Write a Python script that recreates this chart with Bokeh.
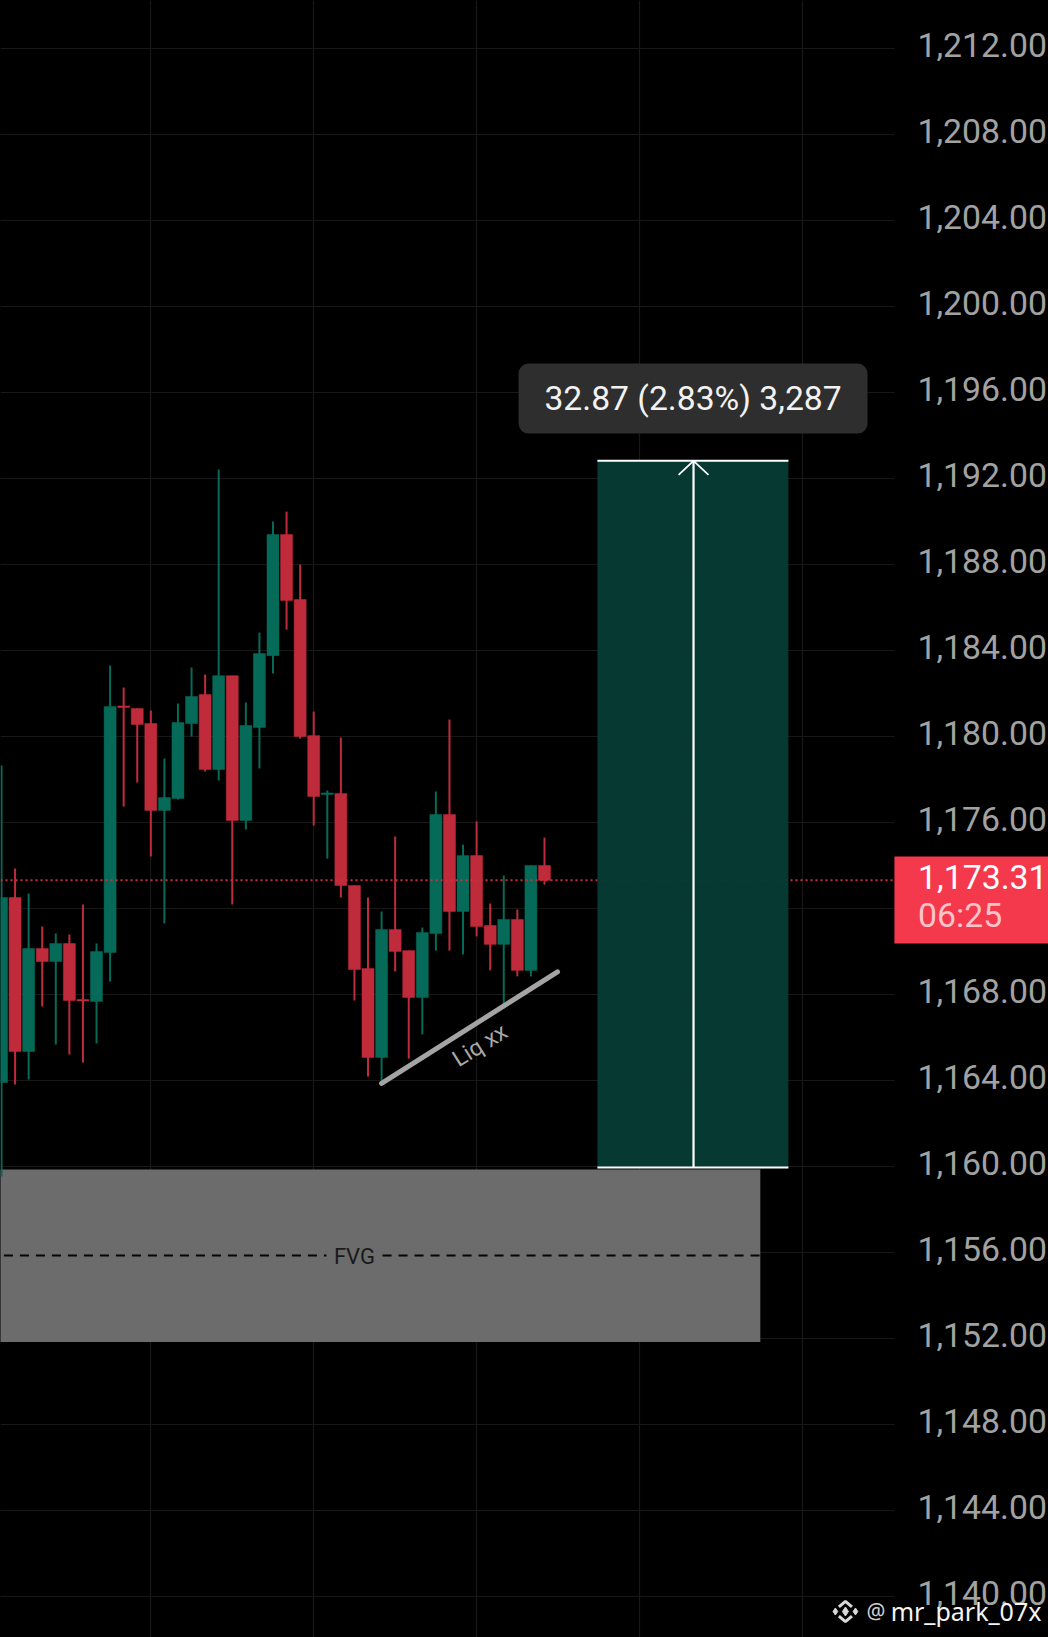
from bokeh.plotting import figure
from bokeh.embed import file_html
from bokeh.resources import INLINE
from bokeh.core.properties import value
from bokeh.models import (LinearAxis, Grid, FixedTicker, NumeralTickFormatter, Range1d,
                          BoxAnnotation, Label, ColumnDataSource)

FONT = "Roboto"
opens = [1163.90,1172.51,1165.35,1170.14,1169.53,1170.37,1167.76,1167.67,1169.95,1181.42,
         1181.30,1180.60,1176.56,1177.11,1180.60,1181.95,1178.46,1182.83,1176.09,1180.42,
         1183.76,1189.39,1186.37,1180.04,1177.30,1177.35,1173.07,1169.21,1165.07,1171.02,
         1170.04,1167.86,1170.83,1176.37,1171.86,1174.46,1171.21,1170.33,1171.49,1169.12,1174.00]
highs = [1178.65,1173.86,1172.70,1171.16,1170.83,1170.79,1172.18,1170.37,1183.30,1182.28,
         1181.30,1181.21,1178.97,1181.53,1183.21,1182.88,1192.42,1182.83,1181.58,1184.83,
         1190.00,1190.46,1188.00,1181.16,1177.49,1179.95,1173.07,1172.51,1171.86,1175.35,
         1170.04,1171.11,1177.44,1180.79,1174.97,1176.05,1172.23,1173.53,1171.95,1174.00,1175.30]
lows = [1159.53,1163.81,1164.04,1167.44,1165.67,1165.21,1164.83,1165.72,1168.60,1176.74,
        1177.86,1174.42,1171.30,1177.07,1180.00,1178.37,1177.95,1172.18,1175.67,1178.51,
        1182.93,1184.97,1179.90,1175.86,1174.32,1172.51,1167.72,1164.18,1164.00,1169.07,
        1165.02,1166.14,1170.04,1170.04,1169.86,1170.70,1169.12,1167.49,1168.84,1168.84,1173.11]
closes = [1172.51,1165.35,1170.14,1169.53,1170.37,1167.72,1167.70,1170.00,1181.39,1181.35,
          1180.56,1176.56,1177.16,1180.65,1181.86,1178.46,1182.83,1176.09,1180.51,1183.86,
          1189.39,1186.32,1180.00,1177.21,1177.37,1173.07,1169.16,1165.07,1171.02,1170.00,
          1167.86,1170.88,1176.37,1171.86,1174.46,1171.16,1170.33,1171.49,1169.12,1174.00,1173.31]
price_ticks = [1140,1144,1148,1152,1156,1160,1164,1168,1172,1176,1180,1184,1188,1192,1196,1200,1204,1208,1212]
time_ticks = [11,23,35,47,59]
last_price = 1173.31
last_label = "1,173.31"
countdown = "06:25"
fvg_left, fvg_right, fvg_top, fvg_bottom, fvg_mid = -1.0, 55.9, 1159.86, 1151.84, 1155.86
fvg_dash_x = [[-1.0, 23.94], [28.07, 55.9]]
tp_left, tp_right, tp_top, tp_bottom, tp_mid = 43.9, 57.97, 1192.82, 1159.95, 50.98
arrow_x = [49.88, 50.98, 52.08]
arrow_y = [1192.17, 1192.82, 1192.17]
liq_x, liq_y = [28.0, 40.96], [1163.86, 1169.05]
tip_left, tip_right, tip_top, tip_bottom = 38.09, 63.8, 1197.35, 1194.09
tip_text = "32.87 (2.83%) 3,287"
logo_x, logo_y = 62.17, 1139.30

GREEN, RED = "#066a58", "#c02b3b"
xs = list(range(len(opens)))
tops = [max(o, c) for o, c in zip(opens, closes)]
bots = [min(o, c) for o, c in zip(opens, closes)]
cols = [GREEN if c >= o else RED for o, c in zip(opens, closes)]
cols[6] = RED; cols[9] = RED
src = ColumnDataSource(dict(x=xs, h=highs, l=lows, t=tops, b=bots, c=cols))

x_start, x_pane, x_end = -0.0737, 65.78, 77.13
y_start, y_end = 1138.09, 1214.233
label_shift = 0.14

p = figure(width=1048, height=1637, x_axis_type=None, y_axis_type=None,
           output_backend="svg", toolbar_location=None,
           x_range=Range1d(x_start, x_end), y_range=Range1d(y_start, y_end),
           background_fill_color="#000000", border_fill_color="#000000",
           min_border=0, outline_line_color=None)
p.styles = {"position": "fixed", "left": "0px", "top": "0px", "background-color": "#000000"}
p.extra_y_ranges = {"labels": Range1d(y_start - label_shift, y_end - label_shift)}

axis = LinearAxis(ticker=FixedTicker(ticks=price_ticks), formatter=NumeralTickFormatter(format="0,0.00"),
                  y_range_name="labels", fixed_location=x_pane,
                  axis_line_color=None, major_tick_line_color=None, minor_tick_line_color=None,
                  major_label_text_color="#a2a2a2", major_label_text_font=FONT,
                  major_label_text_font_size="33.8px", major_label_standoff=17)
p.add_layout(axis, "right")
p.add_layout(Grid(dimension=1, ticker=FixedTicker(ticks=price_ticks), grid_line_color="#181818", grid_line_width=1.2))
p.add_layout(Grid(dimension=0, ticker=FixedTicker(ticks=time_ticks), grid_line_color="#181818", grid_line_width=1.2))

# black pane under the price scale
p.quad(left=[x_pane], right=[x_end + 1], top=[y_end + 1], bottom=[y_start - 1], fill_color="#000000", line_color=None)

# FVG zone
p.quad(left=[fvg_left], right=[fvg_right], top=[fvg_top], bottom=[fvg_bottom],
       fill_color="#707070", fill_alpha=0.97, line_color=None)

# candles
p.segment(x0="x", x1="x", y0="l", y1="h", color="c", line_width=2, source=src)
p.vbar(x="x", width=0.884, top="t", bottom="b", fill_color="c", line_color="c", line_width=0.5, source=src)

# last price line
p.line([x_start, x_pane], [last_price, last_price], line_color="#c8323f", line_width=2, line_dash="2 3")

# long-position zone over the price line
p.quad(left=[tp_left], right=[tp_right], top=[tp_top], bottom=[tp_bottom],
       fill_color="#053c34", fill_alpha=0.95, line_color=None)

# FVG midline and label
for seg in fvg_dash_x:
    p.line(seg, [fvg_mid, fvg_mid], line_color="#050505", line_width=2, line_dash="9 7")
p.text([26.0], [fvg_mid - 0.06], text=["FVG"], text_color="#1a1a1a", text_font=value(FONT),
       text_font_size="22px", text_align="center", text_baseline="middle")

# long-position tool
p.line([tp_left, tp_right], [tp_top, tp_top], line_color="#ffffff", line_width=2)
p.line([tp_left, tp_right], [tp_bottom, tp_bottom], line_color="#ffffff", line_width=2)
p.line([tp_mid, tp_mid], [tp_bottom, tp_top], line_color="#ffffff", line_width=2.2)
p.line(arrow_x, arrow_y, line_color="#ffffff", line_width=1.8)

# tooltip
p.add_layout(BoxAnnotation(left=tip_left, right=tip_right, top=tip_top, bottom=tip_bottom,
                           fill_color="#2e2e2e", fill_alpha=1, line_color=None, border_radius=10))
p.add_layout(Label(x=(tip_left + tip_right) / 2, y=1195.72, text=tip_text, text_color="#f2f2f2", text_font=FONT,
                   text_font_size="33.7px", text_align="center", text_baseline="middle"))

# liquidity line
p.line(liq_x, liq_y, line_color="#a4a4a4", line_width=5, line_cap="round")
p.text([35.25], [1165.63], text=["Liq xx"], text_color="#a8a8a8", text_font=value(FONT), text_font_size="23px",
       text_align="center", text_baseline="middle", angle=0.56)

# last price tag
p.add_layout(BoxAnnotation(left=x_pane, right=x_end + 1, top=1174.42, bottom=1170.37,
                           fill_color="#f5394c", fill_alpha=1, line_color=None))
p.add_layout(Label(x=67.52, y=1173.45, text=last_label, text_color="#ffffff", text_font=FONT,
                   text_font_size="33.8px", text_baseline="middle"))
p.add_layout(Label(x=67.52, y=1171.67, text=countdown, text_color="#fbc4ca", text_font=FONT,
                   text_font_size="33.8px", text_baseline="middle"))

# watermark
lx, ly = 0.74, 0.47
p.add_layout(Label(x=63.72, y=logo_y, text="@", text_color="#d0d0d0", text_font="Noto Sans",
                   text_font_size="21px", text_baseline="middle"))
p.add_layout(Label(x=65.5, y=logo_y, text="mr_park_07x", text_color="#f4f4f4", text_font="Noto Sans",
                   text_font_size="25px", text_baseline="middle"))
p.scatter([logo_x, logo_x - lx, logo_x + lx], [logo_y, logo_y, logo_y], marker="diamond",
          size=[9, 7, 7], color="#d8d8d8")
p.multi_line([[logo_x - lx * 0.65, logo_x, logo_x + lx * 0.65], [logo_x - lx * 0.65, logo_x, logo_x + lx * 0.65]],
             [[logo_y + ly * 0.45, logo_y + ly, logo_y + ly * 0.45], [logo_y - ly * 0.45, logo_y - ly, logo_y - ly * 0.45]],
             line_color="#d8d8d8", line_width=3)

open("out.html", "w").write(file_html(p, INLINE))
